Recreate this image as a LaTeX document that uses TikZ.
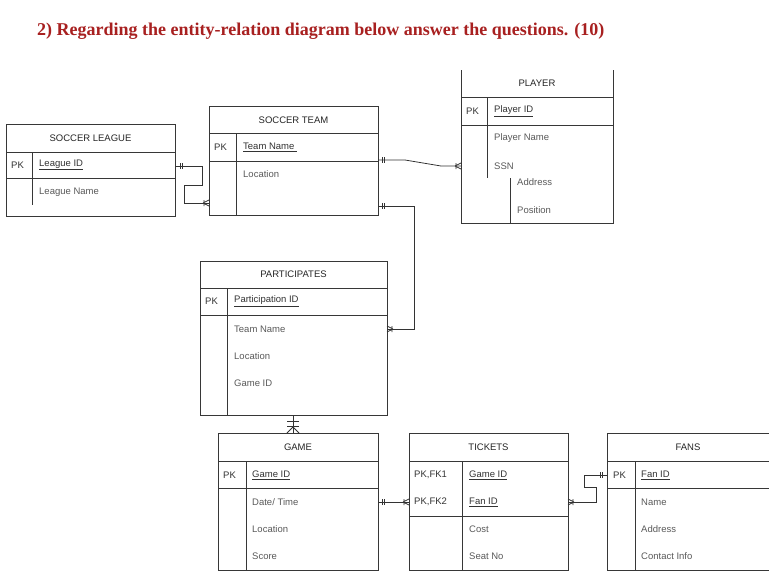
\documentclass[tikz,border=0pt]{standalone}
\usepackage{fontspec}
\setmainfont{Liberation Sans}
\newfontfamily\titlefont{Liberation Serif}
\definecolor{ttl}{RGB}{168,32,32}
\definecolor{ln}{RGB}{55,55,55}
\definecolor{tx}{RGB}{90,90,90}
\newcommand\ul[1]{\underline{#1}}
\begin{document}
\begin{tikzpicture}[x=1pt,y=-1pt,
  box/.style={draw=ln,line width=1pt},
  hd/.style={font=\fontsize{9.5}{10}\selectfont,text=black!85,inner sep=0},
  attr/.style={font=\fontsize{9.5}{10}\selectfont,text=tx,anchor=west,inner sep=0},
  pk/.style={font=\fontsize{9.5}{10}\selectfont,text=black!80,anchor=west,inner sep=0},
  con/.style={draw=black!80,line width=0.8pt}]
\useasboundingbox (0,0) rectangle (769,584);
\fill[white] (0,0) rectangle (769,584);
\node[anchor=west,inner sep=0,text=ttl,font=\titlefont\fontsize{18}{20}\selectfont\bfseries] (title) at (37,31) {2) Regarding the entity-relation diagram below answer the questions. (10)};

% SOCCER LEAGUE
\draw[box] (6,124) rectangle (175,216);
\draw[box] (6,152)--(175,152) (6,178)--(175,178) (32,152)--(32,205);
\node[hd] (slh) at (90.5,138) {SOCCER LEAGUE};
\node[pk] (slpk) at (11,165) {PK};
\node[pk] (sl1) at (39,165) {\ul{League ID}};
\node[attr] (sl2) at (39,192) {League Name};

% SOCCER TEAM
\draw[box] (209,106) rectangle (378,215);
\draw[box] (209,133)--(378,133) (209,161)--(378,161) (236,133)--(236,215);
\node[hd] (sth) at (293.5,120) {SOCCER TEAM};
\node[pk] (stpk) at (214,147) {PK};
\node[pk] (st1) at (243,147) {\ul{Team Name }};
\node[attr] (st2) at (243,174) {Location};

% PLAYER
\draw[box] (461,70)--(461,223)--(613,223)--(613,70);
\draw[box] (461,97)--(613,97) (461,125)--(613,125) (487,97)--(487,178) (510,178)--(510,223);
\node[hd] (plh) at (537,83) {PLAYER};
\node[pk] (plpk) at (466,111) {PK};
\node[pk] (pl1) at (494,111) {\ul{Player ID}};
\node[attr] (pl2) at (494,138) {Player Name};
\node[attr] (pl3) at (494,166) {SSN};
\node[attr] (pl4) at (517,182) {Address};
\node[attr] (pl5) at (517,210) {Position};

% PARTICIPATES
\draw[box] (200,261) rectangle (387,415);
\draw[box] (200,288)--(387,288) (200,315)--(387,315) (227,288)--(227,415);
\node[hd] (pah) at (293.5,274) {PARTICIPATES};
\node[pk] (papk) at (205,301) {PK};
\node[pk] (pa1) at (234,301) {\ul{Participation ID}};
\node[attr] (pa2) at (234,329) {Team Name};
\node[attr] (pa3) at (234,356) {Location};
\node[attr] (pa4) at (234,383) {Game ID};

% GAME
\draw[box] (218,433) rectangle (378,570);
\draw[box] (218,461)--(378,461) (218,488)--(378,488) (246,461)--(246,570);
\node[hd] (gah) at (298,447) {GAME};
\node[pk] (gapk) at (223,475) {PK};
\node[pk] (ga1) at (252,475) {\ul{Game ID}};
\node[attr] (ga2) at (252,502) {Date/ Time};
\node[attr] (ga3) at (252,529) {Location};
\node[attr] (ga4) at (252,556) {Score};

% TICKETS
\draw[box] (409,433) rectangle (568,570);
\draw[box] (409,461)--(568,461) (409,516)--(568,516) (462,461)--(462,570);
\node[hd] (tih) at (488.5,447) {TICKETS};
\node[pk] (tipk1) at (414,475) {PK,FK1};
\node[pk] (tipk2) at (414,502) {PK,FK2};
\node[pk] (ti1) at (469,475) {\ul{Game ID}};
\node[pk] (ti2) at (469,502) {\ul{Fan ID}};
\node[attr] (ti3) at (469,529) {Cost};
\node[attr] (ti4) at (469,556) {Seat No};

% FANS
\draw[box] (769,433)--(607,433)--(607,570)--(769,570);
\draw[box] (607,461)--(769,461) (607,488)--(769,488) (635,461)--(635,570);
\node[hd] (fah) at (688,447) {FANS};
\node[pk] (fapk) at (613,475) {PK};
\node[pk] (fa1) at (641,475) {\ul{Fan ID}};
\node[attr] (fa2) at (641,502) {Name};
\node[attr] (fa3) at (641,529) {Address};
\node[attr] (fa4) at (641,556) {Contact Info};

% connector end points
\coordinate (c1a) at (175,166); \coordinate (c1b) at (209,203);
\coordinate (c2a) at (378,160); \coordinate (c2b) at (461,166);
\coordinate (c3a) at (378,206); \coordinate (c3b) at (387,329);
\coordinate (c4a) at (293,415); \coordinate (c4b) at (293,433);
\coordinate (c5a) at (378,502); \coordinate (c5b) at (409,502);
\coordinate (c6a) at (568,502); \coordinate (c6b) at (607,475);

\draw[con] (c1a) -- (202,166) -- (202,185) -- (184,185) -- (184,203) -- (c1b);
\draw[con] (c2a) -- (405,160) -- (441,166) -- (c2b);
\draw[con] (c3a) -- (414,206) -- (414,329) -- (c3b);
\draw[con] (c4a) -- (c4b);
\draw[con] (c5a) -- (c5b);
\draw[con] (c6a) -- (596,502) -- (596,487) -- (584,487) -- (584,475) -- (c6b);

% one-one bars
\draw[con] (180,163)--(180,169) (182,163)--(182,169);
\draw[con] (382,157)--(382,163) (384,157)--(384,163);
\draw[con] (382,203)--(382,209) (384,203)--(384,209);
\draw[con] (287,421)--(299,421) (287,426)--(299,426);
\draw[con] (382,499)--(382,505) (384,499)--(384,505);
\draw[con] (600,472)--(600,478) (602,472)--(602,478);
% crow's feet with bar
\draw[con] (203,203)--(209,200) (203,203)--(209,206) (204,200)--(204,206);
\draw[con] (455,166)--(461,163) (455,166)--(461,169) (456,163)--(456,169);
\draw[con] (393,329)--(387,326) (393,329)--(387,332) (392,326)--(392,332);
\draw[con] (403,502)--(409,499) (403,502)--(409,505) (404,499)--(404,505);
\draw[con] (574,502)--(568,499) (574,502)--(568,505) (573,499)--(573,505);
\draw[con] (293,427)--(287,433) (293,427)--(299,433);
\end{tikzpicture}
\end{document}
